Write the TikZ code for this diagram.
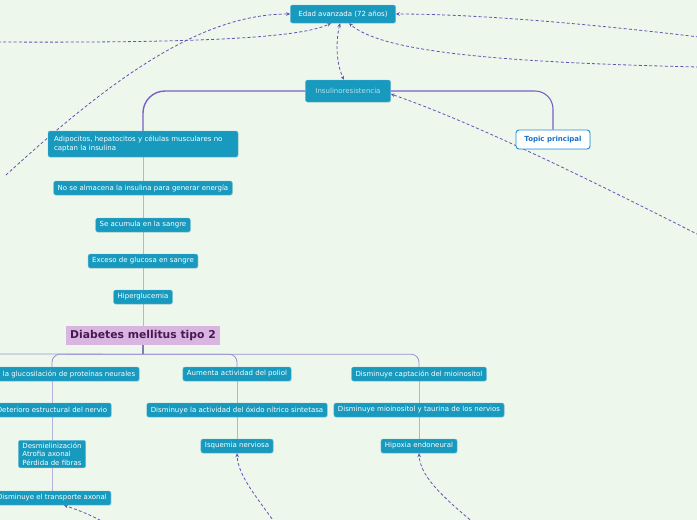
\documentclass[tikz,border=0pt]{standalone}
\usepackage{fontspec}
\setmainfont{DejaVu Sans}
\usetikzlibrary{arrows.meta,shadows,backgrounds}
\definecolor{bgc}{HTML}{EEF7EC}
\definecolor{nodeblue}{HTML}{1899BE}
\definecolor{nodeedge}{HTML}{6CC0DA}
\definecolor{mainline}{HTML}{7A60C6}
\definecolor{thinline}{HTML}{B8B0DE}
\definecolor{busline}{HTML}{9C8FD2}
\definecolor{dashc}{HTML}{6155B2}
\definecolor{diabfill}{HTML}{D9B6E2}
\definecolor{diabtext}{HTML}{4A1850}
\definecolor{topicblue}{HTML}{1E8EDC}
\definecolor{topictext}{HTML}{1A6FC6}
\definecolor{insultext}{HTML}{B4E2EE}
\tikzset{
  box/.style={fill=nodeblue, draw=nodeedge, line width=0.4pt, rounded corners=2pt,
    text=white, font=\fontsize{7}{8.4}\selectfont, inner xsep=4pt, inner ysep=1pt,
    minimum height=14pt, drop shadow={opacity=0.18, shadow xshift=0.6pt, shadow yshift=-0.6pt}},
  mainconn/.style={draw=mainline, line width=1.4pt},
  thinconn/.style={draw=thinline, line width=0.8pt},
  busconn/.style={draw=busline, line width=0.8pt, rounded corners=8pt},
  dashconn/.style={draw=dashc, line width=0.8pt, dash pattern=on 3pt off 2.2pt,
    -{Stealth[length=4pt,width=3.5pt]}},
}
\begin{document}
\begin{tikzpicture}[x=1pt,y=-1pt]
\clip (0,0) rectangle (697,520);

% nodes
\node[box, inner xsep=8pt, minimum height=18pt] (edad) at (343,14) {Edad avanzada (72 años)};
\node[box, inner xsep=10pt, minimum height=22pt, text=insultext] (insul) at (348,91) {Insulinoresistencia};
\node[fill=white, draw=topicblue, line width=0.9pt, rounded corners=3pt, text=topictext,
      font=\fontsize{7}{8.4}\selectfont\bfseries, minimum width=74pt, minimum height=19pt,
      drop shadow={opacity=0.15, shadow xshift=0.6pt, shadow yshift=-0.6pt}] (topic) at (553,139.5) {Topic principal};
\node[box, align=left, text width=178pt, inner xsep=6pt, minimum height=26pt] (adipo) at (143,144)
  {Adipocitos, hepatocitos y células musculares no\\captan la insulina};
\node[box] (nose) at (143,188) {No se almacena la insulina para generar energía};
\node[box] (seacum) at (143,225) {Se acumula en la sangre};
\node[box] (exceso) at (143,261) {Exceso de glucosa en sangre};
\node[box] (hiper) at (143,297) {Hiperglucemia};
\node[fill=diabfill, text=diabtext, font=\fontsize{10.8}{12}\selectfont\bfseries,
      minimum width=154pt, minimum height=19pt, inner sep=2pt] (diab) at (143,335.5) {Diabetes mellitus tipo 2};

\node[box] (c1a) at (52,374) {Aumenta la glucosilación de proteínas neurales};
\node[box] (c1b) at (52,410) {Deterioro estructural del nervio};
\node[box, align=left, inner ysep=2.5pt] (c1c) at (52,454) {Desmielinización\\Atrofia axonal\\Pérdida de fibras};
\node[box] (c1d) at (52,498) {Disminuye el transporte axonal};

\node[box] (c2a) at (237,374) {Aumenta actividad del poliol};
\node[box] (c2b) at (237,410) {Disminuye la actividad del óxido nítrico sintetasa};
\node[box] (c2c) at (237,446) {Isquemia nerviosa};

\node[box] (c3a) at (419,374) {Disminuye captación del mioinositol};
\node[box] (c3b) at (419,410) {Disminuye mioinositol y taurina de los nervios};
\node[box] (c3c) at (419,446) {Hipoxia endoneural};

% free ends
\coordinate (L1) at (-2,42);
\coordinate (L2) at (6,175);
\coordinate (R1) at (699,37);
\coordinate (R2) at (699,67);
\coordinate (R3) at (699,235);
\coordinate (B1) at (105,523);
\coordinate (B2) at (275,523);
\coordinate (B3) at (474,523);
\coordinate (busleft) at (-2,354);

\begin{scope}[on background layer]
\fill[bgc] (0,0) rectangle (697,520);
\draw[mainconn, rounded corners=22pt] (insul.west) -| (adipo.north);
\draw[mainconn, line width=1.1pt, rounded corners=18pt] (insul.east) -| (topic.north);
\draw[thinconn] (adipo.south) -- (diab.north);
\draw[draw=busline!85!black, line width=1.1pt] (diab.south) -- ++(0,9) coordinate (busj);
\draw[busconn] (busj) -| (c1a.north);
\draw[busconn] (busj) -| (c2a.north);
\draw[busconn] (busj) -| (c3a.north);
\draw[busconn] (busj) -- (busleft);
\draw[thinconn] (c1a.south) -- (c1b.north);
\draw[thinconn] (c1b.south) -- (c1c.north);
\draw[thinconn] (c1c.south) -- (c1d.north);
\draw[thinconn] (c2a.south) -- (c2b.north);
\draw[thinconn] (c2b.south) -- (c2c.north);
\draw[thinconn] (c3a.south) -- (c3b.north);
\draw[thinconn] (c3b.south) -- (c3c.north);

\draw[dashconn] (L1) .. controls (200,43) and (300,38) .. ([xshift=-12pt]edad.south);
\draw[dashconn] (L2) .. controls (110,80) and (200,14) .. (edad.west);
\draw[dashconn] (R1) .. controls (600,25) and (480,14) .. (edad.east);
\draw[dashconn] (R2) .. controls (480,62) and (380,50) .. ([xshift=6pt]edad.south);
\draw[dashconn, {Stealth[length=4pt,width=3.5pt]}-{Stealth[length=4pt,width=3.5pt]}]
  ([xshift=-3pt]edad.south) .. controls (335,45) and (337,65) .. ([xshift=-4pt]insul.north);
\draw[dashconn] (R3) .. controls (600,185) and (480,125) .. ([yshift=-3pt]insul.east);
\draw[dashconn] (B1) .. controls (90,514) and (72,508) .. ([xshift=12pt]c1d.south);
\draw[dashconn] (B2) .. controls (255,495) and (238,475) .. (c2c.south);
\draw[dashconn] (B3) .. controls (440,495) and (420,475) .. (c3c.south);
\end{scope}
\end{tikzpicture}
\end{document}
